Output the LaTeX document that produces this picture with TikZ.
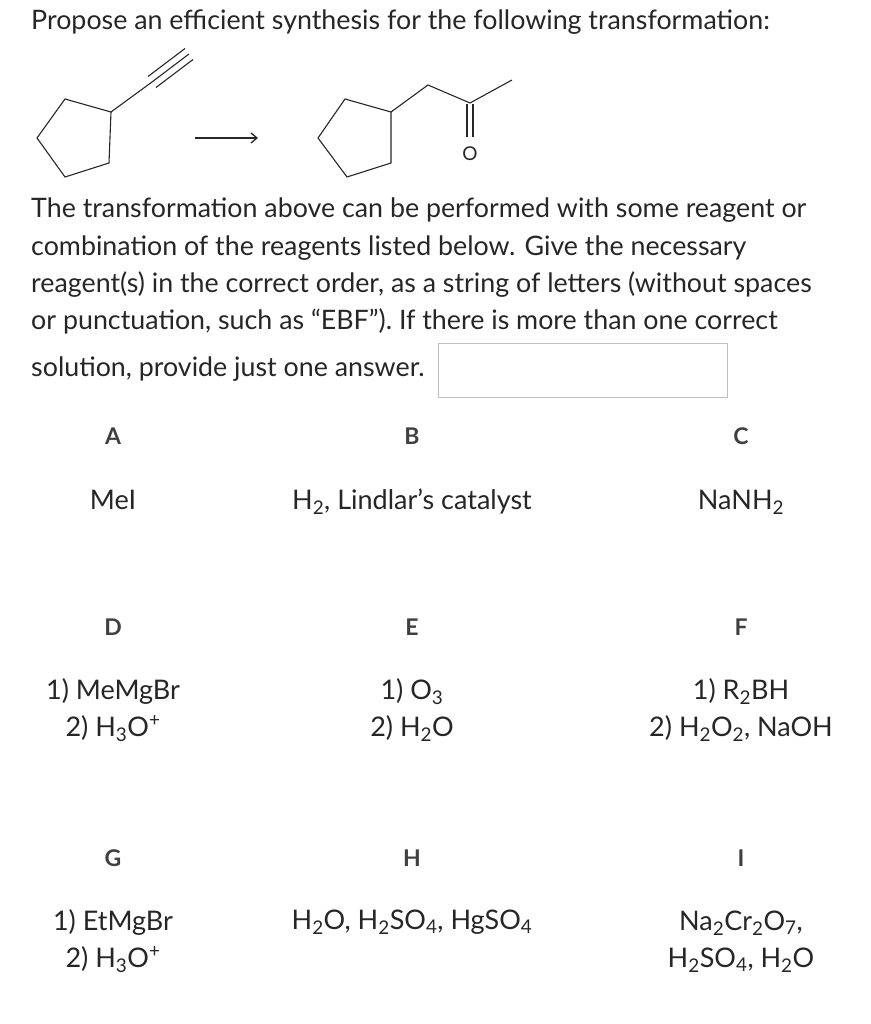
\documentclass[tikz,border=0pt]{standalone}
\usepackage{fontspec}
\setmainfont{Lato}
\usetikzlibrary{arrows.meta}
\newcommand{\sub}[1]{\textsubscript{#1}}
\newcommand{\sups}[1]{\textsuperscript{#1}}
\begin{document}
\begin{tikzpicture}[x=1pt,y=-1pt,
  txt/.style={anchor=base west,inner sep=0pt,font=\fontsize{26.8}{30}\selectfont,text=black!85},
  lett/.style={anchor=base,inner sep=0pt,font=\fontsize{23}{26}\selectfont\bfseries,text=black!75},
  item/.style={anchor=base,inner sep=0pt,align=center,font=\fontsize{27}{37}\selectfont,text=black!85},
  bond/.style={line width=1.1pt,black!85}]
\useasboundingbox (0,0) rectangle (870,1024);
\node[txt] (t0) at (31,30) {Propose an efficient synthesis for the following transformation:};
% molecule 1
\draw[bond] (65,99)--(111,112)--(109,163)--(65,177)--(37,138)--cycle;
\draw[bond] (111,112)--(152,82);
\draw[bond] (152,82)--(189,54);
\draw[bond] (152,82) ++(-4,-5.5) -- ++(37,-28);
\draw[bond] (152,82) ++(4,5.5) -- ++(37,-28);
% arrow
\coordinate (a1) at (195,138); \coordinate (a2) at (258,138);
\draw[bond,line width=1.3pt,-{Straight Barb[length=6pt,width=10pt]}] (a1)--(a2);
% molecule 2
\draw[bond] (345,99)--(391,112)--(391,163)--(347,177)--(318,138)--cycle;
\draw[bond] (391,112)--(428,85)--(470,103)--(512,80);
\draw[bond] (467,104)--(467,137);
\draw[bond] (473,104)--(473,137);
\node[inner sep=0pt,font=\fontsize{19}{20}\selectfont,text=black!85] (O) at (470,154) {O};
% paragraph
\node[txt] (p1) at (31,218) {The transformation above can be performed with some reagent or};
\node[txt] (p2) at (31,255) {combination of the reagents listed below. Give the necessary};
\node[txt] (p3) at (31,292) {reagent(s) in the correct order, as a string of letters (without spaces};
\node[txt] (p4) at (31,329) {or punctuation, such as “EBF”). If there is more than one correct};
\node[txt] (p5) at (31,376) {solution, provide just one answer.};
\draw[black!25,line width=1pt] (438,343) rectangle (727,397);
% options
\node[lett] (A) at (113,444) {A};
\node[lett] (B) at (412,444) {B};
\node[lett] (C) at (741,444) {C};
\node[item] (iA) at (113,509) {MeI};
\node[item] (iB) at (412,509) {H\sub{2}, Lindlar's catalyst};
\node[item] (iC) at (741,509) {NaNH\sub{2}};
\node[lett] (D) at (113,635) {D};
\node[lett] (E) at (412,635) {E};
\node[lett] (F) at (741,635) {F};
\node[item] (iD) at (113,736) {1) MeMgBr\\2) H\sub{3}O\sups{+}};
\node[item] (iE) at (412,736) {1) O\sub{3}\\2) H\sub{2}O};
\node[item] (iF) at (741,736) {1) R\sub{2}BH\\2) H\sub{2}O\sub{2}, NaOH};
\node[lett] (G) at (113,866) {G};
\node[lett] (H) at (412,866) {H};
\node[lett] (I) at (741,866) {I};
\node[item] (iG) at (113,967) {1) EtMgBr\\2) H\sub{3}O\sups{+}};
\node[item] (iH) at (412,929) {H\sub{2}O, H\sub{2}SO\sub{4}, HgSO\sub{4}};
\node[item] (iI) at (741,967) {Na\sub{2}Cr\sub{2}O\sub{7},\\H\sub{2}SO\sub{4}, H\sub{2}O};
\end{tikzpicture}
\end{document}
